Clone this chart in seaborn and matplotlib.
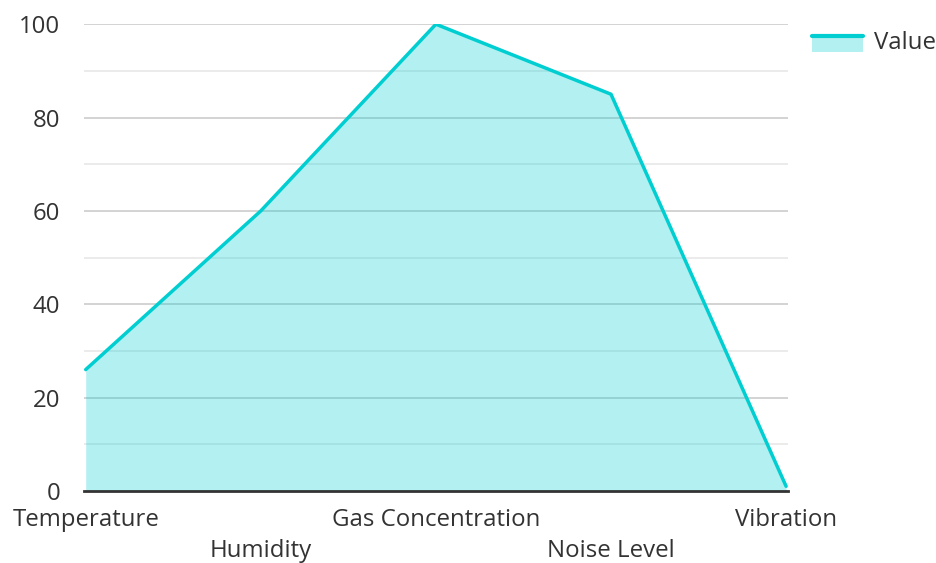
import pandas as pd
import seaborn as sns
import matplotlib.pyplot as plt
from matplotlib.lines import Line2D
from matplotlib.patches import Rectangle
from matplotlib.legend_handler import HandlerBase

# sensor readings
categories = ['Temperature', 'Humidity', 'Gas Concentration', 'Noise Level', 'Vibration']
values = [26, 60, 100, 85, 1]

df = pd.DataFrame({'pos': range(len(categories)), 'Value': values})

sns.set_style('white')
plt.rcParams['font.family'] = ['Open Sans', 'DejaVu Sans']

line_color = '#00CED1'
fs = 17.3


class AreaHandler(HandlerBase):
    # line on top with the filled area underneath, like the area legend icon
    def create_artists(self, legend, orig_handle, xdescent, ydescent, width, height, fontsize, trans):
        top = height * 0.8
        patch = Rectangle((-xdescent, -ydescent - height * 0.15), width, top + height * 0.15,
                          facecolor=line_color, alpha=0.3, lw=0, transform=trans)
        line = Line2D([-xdescent, -xdescent + width], [top, top], color=line_color, lw=3,
                      transform=trans)
        return [patch, line]


fig = plt.figure(figsize=(9.36, 5.63), dpi=100)
ax = fig.add_axes([0.0897, 0.128, 0.752, 0.829])

# grid: major every 20, minor every 10
for y in range(10, 101, 10):
    ax.axhline(y, color='#cccccc' if y % 20 == 0 else '#e8e8e8', lw=1.2, zorder=0)

ax.fill_between(df['pos'], df['Value'], color=line_color, alpha=0.3, lw=0, zorder=1)
sns.lineplot(data=df, x='pos', y='Value', color=line_color, lw=2.5, ax=ax, zorder=2)

ax.set_xlim(-0.01, len(categories) - 1 + 0.01)
ax.set_ylim(0, 100)
ax.set_yticks(range(0, 101, 20))
ax.set_xticks(range(len(categories)))
ax.set_xticklabels([c if i % 2 == 0 else '\n' + c for i, c in enumerate(categories)],
                   linespacing=1.4)
ax.tick_params(axis='both', length=0, labelsize=fs, colors='#333333')
ax.tick_params(axis='y', pad=17)
ax.tick_params(axis='x', pad=12)
ax.set_xlabel('')
ax.set_ylabel('')

for s in ['top', 'right', 'left']:
    ax.spines[s].set_visible(False)
ax.spines['bottom'].set_color('#333333')
ax.spines['bottom'].set_linewidth(2)
ax.spines['bottom'].set_zorder(3)

fig.legend([object()], ['Value'], handler_map={object: AreaHandler()},
           loc='upper right', bbox_to_anchor=(1.01, 0.962), frameon=False,
           fontsize=fs, labelcolor='#333333', handlelength=2.1, handletextpad=0.45,
           borderaxespad=0)

plt.savefig('out.png', dpi=100)
